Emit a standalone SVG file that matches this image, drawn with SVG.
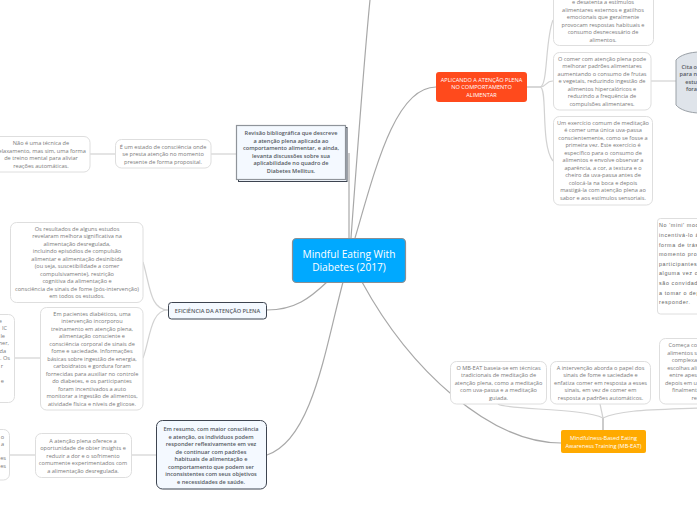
<svg xmlns="http://www.w3.org/2000/svg" width="697" height="520" viewBox="0 0 697 520">
<style>
text{font-family:"Open Sans","DejaVu Sans",sans-serif;font-size:5.6px;text-anchor:middle;fill:#7a7a7a}
.n{fill:#fff;stroke:#dedede;stroke-width:1}
.b{fill:#f4f9ff;stroke:#3d4450;stroke-width:1}
.bt{font-weight:600;fill:#55595f}
.w{fill:#fff}
.c{fill:none;stroke:#d2d2d2;stroke-width:1.200}
.m{fill:none;stroke:#a8a8a8;stroke-width:1.200}
.h{font-family:"Liberation Sans",sans-serif;font-size:5.400px;text-anchor:start;fill:#666;letter-spacing:.6px}
.e{text-anchor:end}
</style>
<rect width="697" height="520" fill="#fff"/>
<g id="connectors">
<path class="m" d="M349 238V153"/>
<path class="m" d="M351 238C356 170 364 60 370 0"/>
<path class="m" d="M355 238C375 170 395 87 436 87"/>
<path class="m" d="M327 282C310 298 295 310 267 310"/>
<path class="m" d="M343 282C325 350 312 440 267 455"/>
<path class="m" d="M362 282C410 370 490 443 561 443"/>
<path class="m" d="M603 430V418"/>
<path class="c" d="M527 87H540C548 87 545 40 553 20"/>
<path class="c" d="M527 87H540C547 87 545 81 553 81"/>
<path class="c" d="M527 87H540C548 87 540 145 553 161"/>
<path class="c" d="M651 81H676"/>
<path class="c" d="M237 154H211"/>
<path class="c" d="M115 154H90"/>
<path class="c" d="M168 310C150 310 150 285 143 262"/>
<path class="c" d="M168 310C150 310 150 340 143 358"/>
<path class="c" d="M40 358H15"/>
<path class="c" d="M157 455H131"/>
<path class="c" d="M35 455H10"/>
<path class="c" d="M498 404C505 410 585 408 603 418"/>
<path class="c" d="M600 404L603 418"/>
<path class="c" d="M700 408C650 410 620 410 603 418"/>
</g>
<g id="central"><rect x="292.500" y="238.500" width="113" height="44" rx="4" fill="#00a9ff" stroke="#8a8f94" stroke-width="1.200"/>
<text class="w" x="349" y="258" style="font-size:10.200px">Mindful Eating With</text><text class="w" x="349" y="271" style="font-size:10.200px">Diabetes (2017)</text></g>
<g id="revisao"><rect x="238.500" y="127.500" width="108.500" height="54" fill="#f4f9ff" stroke="#3d4450"/><rect x="236.500" y="125.500" width="109" height="54" fill="#f4f9ff" stroke="#8f949a" stroke-width="1.200"/>
<text class="bt" x="291" y="135">Revisão bibliográfica que descreve</text><text class="bt" x="291" y="143">a atenção plena aplicada ao</text><text class="bt" x="291" y="150">comportamento alimentar, e ainda,</text><text class="bt" x="291" y="158">levanta discussões sobre sua</text><text class="bt" x="291" y="165">aplicabilidade no quadro de</text><text class="bt" x="291" y="173">Diabetes Mellitus.</text></g>
<g id="estado"><rect class="n" x="115.500" y="139.500" width="95.500" height="28.500" rx="6"/>
<text x="163" y="149">É um estado de consciência onde</text><text x="163" y="156">se presta atenção no momento</text><text x="163" y="164">presente de forma proposital.</text></g>
<g id="tecnica"><rect class="n" x="-8" y="136.500" width="98" height="35.500" rx="6"/>
<text x="41" y="145">Não é uma técnica de</text><text x="41" y="153">relaxamento, mas sim, uma forma</text><text x="41" y="160">de treino mental para aliviar</text><text x="41" y="168">reações automáticas.</text></g>
<g id="resultados"><rect class="n" x="10.500" y="222.500" width="132.500" height="80" rx="6"/>
<text x="77" y="231">Os resultados de alguns estudos</text><text x="77" y="238">revelaram melhora significativa na</text><text x="77" y="246">alimentação desregulada,</text><text x="77" y="253">incluindo episódios de compulsão</text><text x="77" y="261">alimentar e alimentação desinibida</text><text x="77" y="268">(ou seja, suscetibilidade a comer</text><text x="77" y="276">compulsivamente), restrição</text><text x="77" y="283">cognitiva da alimentação e</text><text x="77" y="291">consciência de sinais de fome (pós-intervenção)</text><text x="77" y="298">em todos os estudos.</text></g>
<g id="pacientes"><rect class="n" x="40.500" y="307.500" width="102.500" height="102.500" rx="6"/>
<text x="92" y="316">Em pacientes diabéticos, uma</text><text x="92" y="323">intervenção incorporou</text><text x="92" y="331">treinamento em atenção plena,</text><text x="92" y="338">alimentação consciente e</text><text x="92" y="346">consciência corporal de sinais de</text><text x="92" y="353">fome e saciedade. Informações</text><text x="92" y="361">básicas sobre ingestão de energia,</text><text x="92" y="368">carboidratos e gordura foram</text><text x="92" y="376">fornecidas para auxiliar no controle</text><text x="92" y="383">do diabetes, e os participantes</text><text x="92" y="391">foram incentivados a auto</text><text x="92" y="398">monitorar a ingestão de alimentos,</text><text x="92" y="406">atividade física e níveis de glicose.</text></g>
<g id="parcial-esquerda"><rect class="n" x="-20" y="314.500" width="34.500" height="88" rx="6"/>
<text class="e" x="2" y="323">e</text><text class="e" x="7" y="330">IC</text><text class="e" x="5" y="338">le</text><text class="e" x="9" y="345">ner,</text><text class="e" x="6" y="353">da</text><text class="e" x="10" y="360">. Os</text><text class="e" x="3" y="368">r</text><text class="e" x="4" y="383">e</text></g>
<g id="eficiencia"><rect class="b" x="168.500" y="302.500" width="98" height="16.500" rx="3"/><text class="bt" x="217.500" y="312.500">EFICIÊNCIA DA ATENÇÃO PLENA</text></g>
<g id="resumo"><rect class="b" x="156.500" y="420.500" width="110" height="68.500" rx="6"/>
<text class="bt" x="211" y="431">Em resumo, com maior consciência</text><text class="bt" x="211" y="439">e atenção, os indivíduos podem</text><text class="bt" x="211" y="446">responder reflexivamente em vez</text><text class="bt" x="211" y="454">de continuar com padrões</text><text class="bt" x="211" y="461">habituais de alimentação e</text><text class="bt" x="211" y="469">comportamento que podem ser</text><text class="bt" x="211" y="476">inconsistentes com seus objetivos</text><text class="bt" x="211" y="484">e necessidades de saúde.</text></g>
<g id="oferece"><rect class="n" x="35.500" y="433.500" width="96" height="44" rx="6"/>
<text x="83" y="443">A atenção plena oferece a</text><text x="83" y="450">oportunidade de obter insights e</text><text x="83" y="458">reduzir a dor e o sofrimento</text><text x="83" y="465">comumente experimentados com</text><text x="83" y="473">a alimentação desregulada.</text></g>
<g id="parcial-inferior"><rect class="n" x="-20" y="429.500" width="29.500" height="50.500" rx="6"/>
<text class="e" x="4" y="439">o</text><text class="e" x="4" y="446">a</text><text class="e" x="6" y="460">es</text><text class="e" x="6" y="468">es</text></g>
<g id="aplicando"><rect x="436" y="72" width="91" height="30" rx="3" fill="#ff4a1c"/>
<text class="w" x="481.500" y="82">APLICANDO A ATENÇÃO PLENA</text><text class="w" x="481.500" y="89">NO COMPORTAMENTO</text><text class="w" x="481.500" y="97">ALIMENTAR</text></g>
<g id="estimulos"><rect class="n" x="553.500" y="-20" width="100" height="65.500" rx="6"/>
<text x="603" y="4">e desatenta a estímulos</text><text x="603" y="12">alimentares externos e gatilhos</text><text x="603" y="19">emocionais que geralmente</text><text x="603" y="27">provocam respostas habituais e</text><text x="603" y="34">consumo desnecessário de</text><text x="603" y="42">alimentos.</text></g>
<g id="padroes"><rect class="n" x="553.500" y="52.500" width="97.500" height="57.500" rx="6"/>
<text x="602" y="61">O comer com atenção plena pode</text><text x="602" y="68">melhorar padrões alimentares</text><text x="602" y="76">aumentando o consumo de frutas</text><text x="602" y="83">e vegetais, reduzindo ingestão de</text><text x="602" y="91">alimentos hipercalóricos e</text><text x="602" y="98">reduzindo a frequência de</text><text x="602" y="106">compulsões alimentares.</text></g>
<g id="exercicio"><rect class="n" x="553.500" y="116.500" width="99" height="88.500" rx="6"/>
<text x="603" y="125">Um exercício comum de meditação</text><text x="603" y="132">é comer uma única uva-passa</text><text x="603" y="140">conscientemente, como se fosse a</text><text x="603" y="147">primeira vez. Este exercício é</text><text x="603" y="155">específico para o consumo de</text><text x="603" y="162">alimentos e envolve observar a</text><text x="603" y="170">aparência, a cor, a textura e o</text><text x="603" y="177">cheiro da uva-passa antes de</text><text x="603" y="185">colocá-la na boca e depois</text><text x="603" y="192">mastigá-la com atenção plena ao</text><text x="603" y="200">sabor e aos estímulos sensoriais.</text></g>
<g id="cilindro"><path d="M676 60C680 55 690 52 700 52V113C690 113 680 110 676 105Z" fill="#dfe4ea" stroke="#9aa0a6"/>
<text class="bt e" x="697" y="69">Cita o</text><text class="bt e" x="697" y="76">para n</text><text class="bt e" x="697" y="84">estu</text><text class="bt e" x="697" y="91">fora</text></g>
<g id="mini"><rect class="n" x="657.500" y="218.500" width="60" height="95.500" rx="3"/>
<text class="h" x="659" y="227">No 'mini' mod,</text><text class="h" x="659" y="237">incentivá-lo à</text><text class="h" x="659" y="247">forma de trás</text><text class="h" x="659" y="256">momento prova</text><text class="h" x="659" y="266">participantes</text><text class="h" x="659" y="275">alguma vez ou</text><text class="h" x="659" y="285">são convidados</text><text class="h" x="659" y="295">a tomar o depoi</text><text class="h" x="659" y="304">responder.</text></g>
<g id="mbeat"><rect x="561" y="430" width="85" height="23" rx="2" fill="#ffaa00"/>
<text class="w" x="603.500" y="440">Mindfulness-Based Eating</text><text class="w" x="603.500" y="448">Awareness Training (MB-EAT)</text></g>
<g id="mb-tecnicas"><rect class="n" x="450.500" y="361.500" width="96" height="42.500" rx="6"/>
<text x="498.500" y="370">O MB-EAT baseia-se em técnicas</text><text x="498.500" y="377">tradicionais de meditação de</text><text x="498.500" y="385">atenção plena, como a meditação</text><text x="498.500" y="392">com uva-passa e a meditação</text><text x="498.500" y="400">guiada.</text></g>
<g id="mb-sinais"><rect class="n" x="550.500" y="361.500" width="100" height="42.500" rx="6"/>
<text x="600.500" y="370">A intervenção aborda o papel dos</text><text x="600.500" y="377">sinais de fome e saciedade e</text><text x="600.500" y="385">enfatiza comer em resposta a esses</text><text x="600.500" y="392">sinais, em vez de comer em</text><text x="600.500" y="400">resposta a padrões automáticos.</text></g>
<g id="mb-comeca"><rect class="n" x="659.500" y="338.500" width="60" height="65.500" rx="6"/>
<text class="e" x="697" y="347">Começa co</text><text class="e" x="697" y="355">alimentos s</text><text class="e" x="697" y="362">complexa</text><text class="e" x="697" y="370">escolhas ali</text><text class="e" x="697" y="377">entre apes</text><text class="e" x="697" y="385">depois em u</text><text class="e" x="697" y="392">finalment</text><text class="e" x="697" y="400">re</text></g>
</svg>
